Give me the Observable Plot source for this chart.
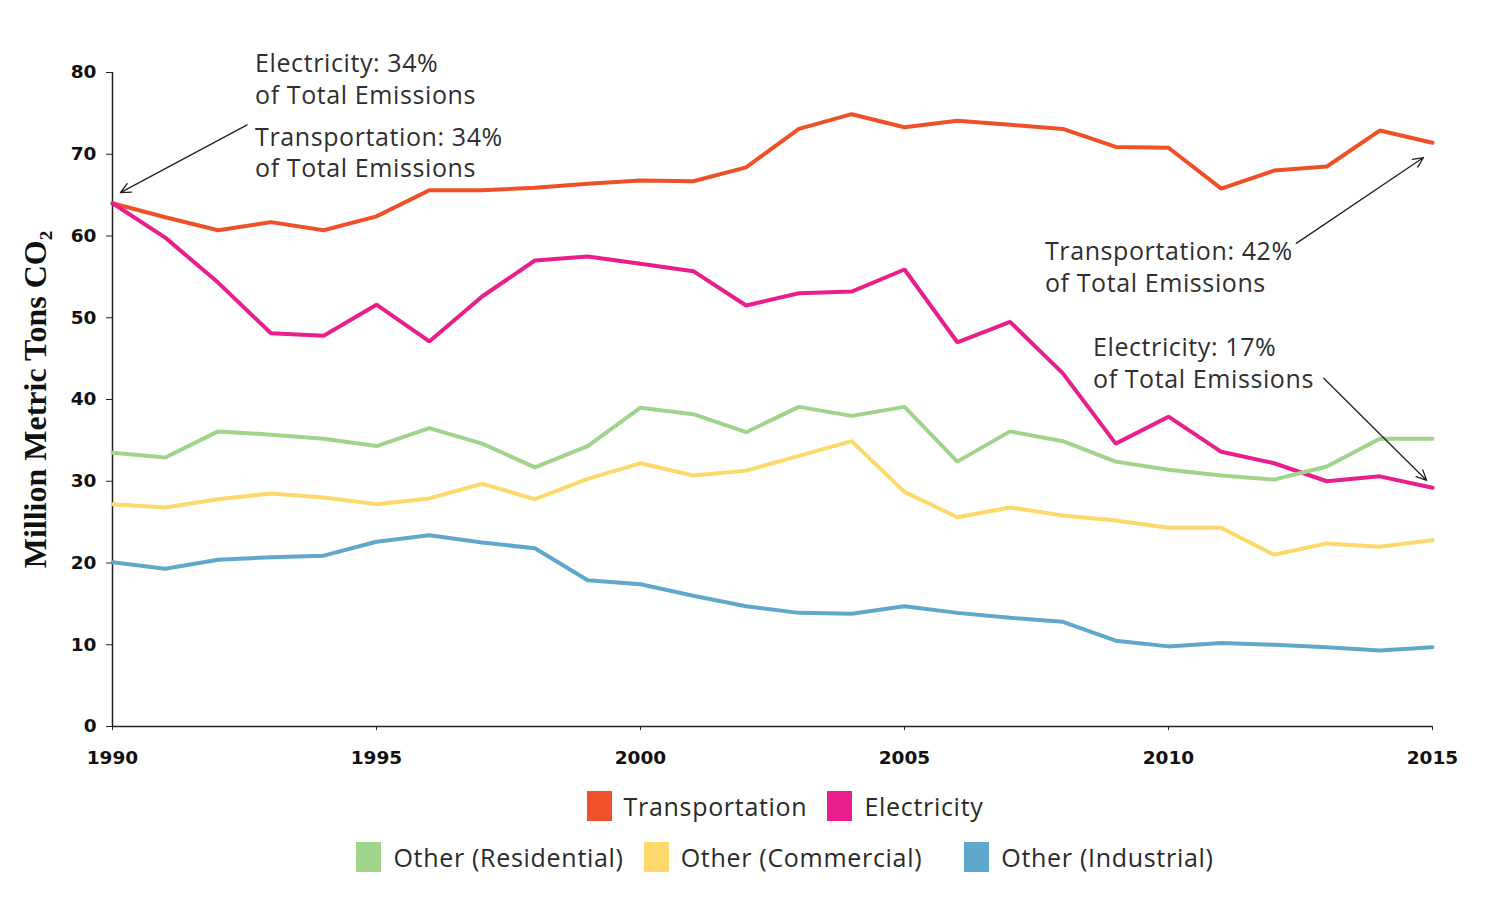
<!DOCTYPE html>
<html>
<head>
<meta charset="utf-8">
<script src="https://cdn.jsdelivr.net/npm/d3@7"></script>
<script src="https://cdn.jsdelivr.net/npm/@observablehq/plot@0.6"></script>
<style>
  body { margin: 0; background: #fff; width: 1500px; height: 900px; overflow: hidden; }
  #chart svg { display: block; }
  .legend { font-family: "Open Sans", Lato, sans-serif; font-size: 25px; letter-spacing: 0.7px; color: #2a2a2a; padding-left: 70px; }
  .row { display: flex; justify-content: center; align-items: center; gap: 20px; height: 51px; }
  .item { display: flex; align-items: center; gap: 12px; }
  .sw { width: 25px; height: 30px; display: inline-block; }
</style>
</head>
<body>
<div id="chart"></div>
<div class="legend" id="legend"></div>
<script>
const years = d3.range(1990, 2016);
const seriesNames = ["Transportation", "Electricity", "Other (Residential)", "Other (Commercial)", "Other (Industrial)"];
const seriesColors = ["#ee5127", "#e91e8c", "#9fd48a", "#fdd86a", "#5fa8cb"];

const transportation = [64.0, 62.3, 60.7, 61.7, 60.7, 62.4, 65.6, 65.6, 65.9, 66.4, 66.8, 66.7, 68.4, 73.1, 74.9, 73.3, 74.1, 73.6, 73.1, 70.9, 70.8, 65.8, 68.0, 68.5, 72.9, 71.4];
const electricity = [64.0, 59.8, 54.3, 48.1, 47.8, 51.6, 47.1, 52.6, 57.0, 57.5, 56.6, 55.7, 51.5, 53.0, 53.2, 55.9, 47.0, 49.5, 43.2, 34.6, 37.9, 33.6, 32.2, 30.0, 30.6, 29.2];
const residential = [33.5, 32.9, 36.1, 35.7, 35.2, 34.3, 36.5, 34.6, 31.7, 34.3, 39.0, 38.2, 36.0, 39.1, 38.0, 39.1, 32.4, 36.1, 34.9, 32.4, 31.4, 30.7, 30.2, 31.8, 35.2, 35.2];
const commercial = [27.2, 26.8, 27.8, 28.5, 28.0, 27.2, 27.9, 29.7, 27.8, 30.3, 32.2, 30.7, 31.3, 33.1, 34.9, 28.7, 25.6, 26.8, 25.8, 25.2, 24.3, 24.3, 21.0, 22.4, 22.0, 22.8];
const industrial = [20.1, 19.3, 20.4, 20.7, 20.9, 22.6, 23.4, 22.5, 21.8, 17.9, 17.4, 16.0, 14.7, 13.9, 13.8, 14.7, 13.9, 13.3, 12.8, 10.5, 9.8, 10.2, 10.0, 9.7, 9.3, 9.7];

const xTicks = [1990, 1995, 2000, 2005, 2010, 2015];
const yTicks = [0, 10, 20, 30, 40, 50, 60, 70, 80];
const yLabel = "Million Metric Tons CO₂";

// annotations (data coordinates)
const noteText = ["Electricity: 34%\nof Total Emissions", "Transportation: 34%\nof Total Emissions",
                  "Transportation: 42%\nof Total Emissions", "Electricity: 17%\nof Total Emissions"];
const noteX = [1992.7, 1992.7, 2007.66, 2008.57];
const noteY = [79.35, 70.35, 56.35, 44.65];
const arrowFrom = [[1992.55, 73.6], [2012.42, 59.1], [2012.94, 42.6]];
const arrowTo = [[1990.15, 65.3], [2014.83, 69.6], [2014.89, 30.1]];

const allValues = [transportation, electricity, residential, commercial, industrial];
const data = [];
seriesNames.forEach((s, i) => years.forEach((yr, j) => data.push({series: s, year: yr, value: allValues[i][j]})));
const notes = noteText.map((t, i) => ({text: t, x: noteX[i], y: noteY[i]}));
const arrows = arrowFrom.map((f, i) => ({x1: f[0], y1: f[1], x2: arrowTo[i][0], y2: arrowTo[i][1]}));

const tickFont = {fontSize: 18.5, fontWeight: "bold", fontFamily: "DejaVu Sans", fill: "#111"};

const chart = Plot.plot({
  width: 1500,
  height: 780,
  marginLeft: 112,
  marginRight: 68,
  marginTop: 72,
  marginBottom: 54,
  style: {fontFamily: "'Open Sans', sans-serif", background: "#fff"},
  x: {domain: [1990, 2015]},
  y: {domain: [0, 80]},
  color: {domain: seriesNames, range: seriesColors},
  marks: [
    Plot.axisY({ticks: yTicks, tickSize: 6, tickPadding: 10, label: null, stroke: "#222", ...tickFont}),
    Plot.axisX({ticks: xTicks, tickFormat: "d", tickSize: 4, tickPadding: 20, label: null, stroke: "#222", ...tickFont}),
    Plot.ruleX([1990], {stroke: "#222", strokeWidth: 1.5}),
    Plot.ruleY([0], {stroke: "#222", strokeWidth: 1.5}),
    Plot.line(data, {x: "year", y: "value", z: "series", stroke: "series", strokeWidth: 4, strokeLinejoin: "miter"}),
    Plot.arrow(arrows, {x1: "x1", y1: "y1", x2: "x2", y2: "y2", stroke: "#222", strokeWidth: 1.3, headLength: 13, headAngle: 50}),
    Plot.text(notes, {x: "x", y: "y", text: "text", textAnchor: "start", lineHeight: 1.27, fontSize: 25, fill: "#2f2f2f",
      fontFamily: "'Open Sans', sans-serif", className: "note"}),
    Plot.text([yLabel], {frameAnchor: "left", textAnchor: "middle", dx: -77, rotate: -90, text: d => d, fontSize: 32, fontWeight: "bold", fontFamily: "Liberation Serif", fill: "#111"})
  ]
});
chart.querySelectorAll("g.note text").forEach(t => { t.style.letterSpacing = "0.6px"; });
document.getElementById("chart").appendChild(chart);

// legend
const rows = [[0, 1], [2, 3, 4]];
const legend = document.getElementById("legend");
rows.forEach(r => {
  const row = document.createElement("div");
  row.className = "row";
  r.forEach(i => {
    const item = document.createElement("div");
    item.className = "item";
    if (i === 4) item.style.marginLeft = "22px";
    const sw = document.createElement("span");
    sw.className = "sw";
    sw.style.background = seriesColors[i];
    const lab = document.createElement("span");
    lab.textContent = seriesNames[i];
    item.appendChild(sw); item.appendChild(lab);
    row.appendChild(item);
  });
  legend.appendChild(row);
});
</script>
</body>
</html>
